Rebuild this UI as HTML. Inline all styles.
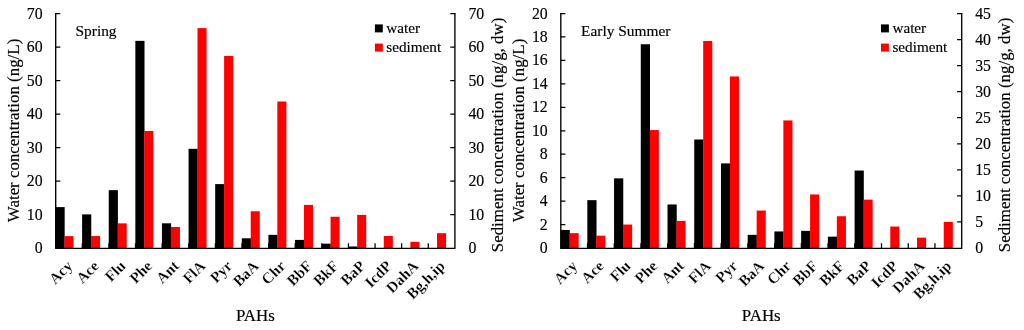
<!DOCTYPE html>
<html lang="en"><head><meta charset="utf-8"><title>PAHs concentration in water and sediment</title>
<style>
html,body{margin:0;padding:0;background:#fff;}
body{width:1024px;height:330px;overflow:hidden;font-family:"Liberation Serif","Times New Roman",serif;}
svg{display:block;}
text{stroke:#000;stroke-width:0.16px;}
text.c{stroke:#fff;stroke-width:0.18px;}
</style></head><body>
<svg width="1024" height="330" viewBox="0 0 1024 330" font-family="'Liberation Serif', 'Times New Roman', serif" fill="#000">
<rect width="1024" height="330" fill="#fff"/>
<rect x="55.5" y="207.1" width="9.17" height="41.3" fill="#000"/>
<rect x="64.42" y="236.15" width="9.07" height="12.25" fill="#f00"/>
<rect x="82.11" y="214.4" width="9.17" height="34" fill="#000"/>
<rect x="91.03" y="236.05" width="9.07" height="12.35" fill="#f00"/>
<rect x="108.73" y="190.15" width="9.17" height="58.25" fill="#000"/>
<rect x="117.65" y="223.35" width="9.07" height="25.05" fill="#f00"/>
<rect x="135.34" y="40.85" width="9.17" height="207.55" fill="#000"/>
<rect x="144.26" y="130.95" width="9.07" height="117.45" fill="#f00"/>
<rect x="161.95" y="223.3" width="9.17" height="25.1" fill="#000"/>
<rect x="170.87" y="227" width="9.07" height="21.4" fill="#f00"/>
<rect x="188.57" y="148.8" width="9.17" height="99.6" fill="#000"/>
<rect x="197.49" y="28.1" width="9.07" height="220.3" fill="#f00"/>
<rect x="215.18" y="184.1" width="9.17" height="64.3" fill="#000"/>
<rect x="224.1" y="55.95" width="9.07" height="192.45" fill="#f00"/>
<rect x="241.79" y="238.3" width="9.17" height="10.1" fill="#000"/>
<rect x="250.71" y="211.25" width="9.07" height="37.15" fill="#f00"/>
<rect x="268.41" y="234.85" width="9.17" height="13.55" fill="#000"/>
<rect x="277.33" y="101.5" width="9.07" height="146.9" fill="#f00"/>
<rect x="295.02" y="239.9" width="9.17" height="8.5" fill="#000"/>
<rect x="303.94" y="204.9" width="9.07" height="43.5" fill="#f00"/>
<rect x="321.63" y="243.65" width="9.17" height="4.75" fill="#000"/>
<rect x="330.55" y="216.75" width="9.07" height="31.65" fill="#f00"/>
<rect x="348.25" y="246.5" width="9.17" height="1.9" fill="#000"/>
<rect x="357.17" y="214.9" width="9.07" height="33.5" fill="#f00"/>
<rect x="383.78" y="236" width="9.07" height="12.4" fill="#f00"/>
<rect x="410.39" y="241.8" width="9.07" height="6.6" fill="#f00"/>
<rect x="437.01" y="233.2" width="9.07" height="15.2" fill="#f00"/>
<path d="M55.7 13.5V248.4H454.9V13.5" fill="none" stroke="#000" stroke-width="1.35" stroke-linejoin="round"/>
<text x="42.6" y="253.05" font-size="15.8" text-anchor="end">0</text>
<text x="42.6" y="219.55" font-size="15.8" text-anchor="end">10</text>
<text x="42.6" y="186.05" font-size="15.8" text-anchor="end">20</text>
<text x="42.6" y="152.55" font-size="15.8" text-anchor="end">30</text>
<text x="42.6" y="119.05" font-size="15.8" text-anchor="end">40</text>
<text x="42.6" y="85.55" font-size="15.8" text-anchor="end">50</text>
<text x="42.6" y="52.05" font-size="15.8" text-anchor="end">60</text>
<text x="42.6" y="18.55" font-size="15.8" text-anchor="end">70</text>
<text x="468.4" y="253.05" font-size="15.8">0</text>
<text x="468.4" y="219.55" font-size="15.8">10</text>
<text x="468.4" y="186.05" font-size="15.8">20</text>
<text x="468.4" y="152.55" font-size="15.8">30</text>
<text x="468.4" y="119.05" font-size="15.8">40</text>
<text x="468.4" y="85.55" font-size="15.8">50</text>
<text x="468.4" y="52.05" font-size="15.8">60</text>
<text x="468.4" y="18.55" font-size="15.8">70</text>
<path d="M82.31 248.4v-5.1M108.93 248.4v-5.1M135.54 248.4v-5.1M162.15 248.4v-5.1M188.77 248.4v-5.1M215.38 248.4v-5.1M241.99 248.4v-5.1M268.61 248.4v-5.1M295.22 248.4v-5.1M321.83 248.4v-5.1M348.45 248.4v-5.1M375.06 248.4v-5.1M401.67 248.4v-5.1M428.29 248.4v-5.1M55.7 214.5h4.6M55.7 181h4.6M55.7 147.5h4.6M55.7 114h4.6M55.7 80.5h4.6M55.7 47h4.6M55.03 13.5h5.27M454.9 214.5h-4.6M454.9 181h-4.6M454.9 147.5h-4.6M454.9 114h-4.6M454.9 80.5h-4.6M454.9 47h-4.6M455.57 13.5h-5.27" fill="none" stroke="#000" stroke-width="1.25"/>
<text transform="translate(73.31 266.9) rotate(-45)" font-size="15.3" class="c" font-weight="bold" text-anchor="end">Acy</text>
<text transform="translate(99.92 266.9) rotate(-45)" font-size="15.3" class="c" font-weight="bold" text-anchor="end">Ace</text>
<text transform="translate(126.53 266.9) rotate(-45)" font-size="15.3" class="c" font-weight="bold" text-anchor="end">Flu</text>
<text transform="translate(153.15 266.9) rotate(-45)" font-size="15.3" class="c" font-weight="bold" text-anchor="end">Phe</text>
<text transform="translate(179.76 266.9) rotate(-45)" font-size="15.3" class="c" font-weight="bold" text-anchor="end">Ant</text>
<text transform="translate(206.37 266.9) rotate(-45)" font-size="15.3" class="c" font-weight="bold" text-anchor="end">FlA</text>
<text transform="translate(232.99 266.9) rotate(-45)" font-size="15.3" class="c" font-weight="bold" text-anchor="end">Pyr</text>
<text transform="translate(259.6 266.9) rotate(-45)" font-size="15.3" class="c" font-weight="bold" text-anchor="end">BaA</text>
<text transform="translate(286.21 266.9) rotate(-45)" font-size="15.3" class="c" font-weight="bold" text-anchor="end">Chr</text>
<text transform="translate(312.83 266.9) rotate(-45)" font-size="15.3" class="c" font-weight="bold" text-anchor="end">BbF</text>
<text transform="translate(339.44 266.9) rotate(-45)" font-size="15.3" class="c" font-weight="bold" text-anchor="end">BkF</text>
<text transform="translate(366.05 266.9) rotate(-45)" font-size="15.3" class="c" font-weight="bold" text-anchor="end">BaP</text>
<text transform="translate(392.67 266.9) rotate(-45)" font-size="15.3" class="c" font-weight="bold" text-anchor="end">IcdP</text>
<text transform="translate(419.28 266.9) rotate(-45)" font-size="15.3" class="c" font-weight="bold" text-anchor="end">DahA</text>
<text transform="translate(445.89 266.9) rotate(-45)" font-size="15.3" class="c" font-weight="bold" text-anchor="end">Bg,h,ip</text>
<text x="255.3" y="321.3" font-size="16.9" text-anchor="middle">PAHs</text>
<text transform="translate(19.1 130.45) rotate(-90)" font-size="16.9" text-anchor="middle">Water concentration (ng/L)</text>
<text transform="translate(503.3 134.95) rotate(-90)" font-size="16.9" text-anchor="middle">Sediment concentration (ng/g, dw)</text>
<text x="75.5" y="35.6" font-size="15.4">Spring</text>
<rect x="374.9" y="24.4" width="7.9" height="8" fill="#000"/>
<rect x="374.9" y="43.6" width="7.9" height="8" fill="#f00"/>
<text x="386.35" y="32.8" font-size="15.2">water</text>
<text x="386.35" y="52.2" font-size="15.2">sediment</text>
<rect x="560.6" y="229.95" width="9.21" height="18.45" fill="#000"/>
<rect x="569.56" y="233.15" width="9.11" height="15.25" fill="#f00"/>
<rect x="587.33" y="200.15" width="9.21" height="48.25" fill="#000"/>
<rect x="596.29" y="235.65" width="9.11" height="12.75" fill="#f00"/>
<rect x="614.05" y="178.35" width="9.21" height="70.05" fill="#000"/>
<rect x="623.01" y="224.55" width="9.11" height="23.85" fill="#f00"/>
<rect x="640.78" y="44.25" width="9.21" height="204.15" fill="#000"/>
<rect x="649.74" y="130.05" width="9.11" height="118.35" fill="#f00"/>
<rect x="667.51" y="204.45" width="9.21" height="43.95" fill="#000"/>
<rect x="676.47" y="220.85" width="9.11" height="27.55" fill="#f00"/>
<rect x="694.23" y="139.5" width="9.21" height="108.9" fill="#000"/>
<rect x="703.19" y="40.95" width="9.11" height="207.45" fill="#f00"/>
<rect x="720.96" y="163.4" width="9.21" height="85" fill="#000"/>
<rect x="729.92" y="76.45" width="9.11" height="171.95" fill="#f00"/>
<rect x="747.69" y="234.85" width="9.21" height="13.55" fill="#000"/>
<rect x="756.65" y="210.55" width="9.11" height="37.85" fill="#f00"/>
<rect x="774.41" y="231.45" width="9.21" height="16.95" fill="#000"/>
<rect x="783.37" y="120.45" width="9.11" height="127.95" fill="#f00"/>
<rect x="801.14" y="230.85" width="9.21" height="17.55" fill="#000"/>
<rect x="810.1" y="194.45" width="9.11" height="53.95" fill="#f00"/>
<rect x="827.87" y="236.65" width="9.21" height="11.75" fill="#000"/>
<rect x="836.83" y="216.25" width="9.11" height="32.15" fill="#f00"/>
<rect x="854.59" y="170.55" width="9.21" height="77.85" fill="#000"/>
<rect x="863.55" y="199.65" width="9.11" height="48.75" fill="#f00"/>
<rect x="890.28" y="226.55" width="9.11" height="21.85" fill="#f00"/>
<rect x="917.01" y="237.65" width="9.11" height="10.75" fill="#f00"/>
<rect x="943.73" y="221.85" width="9.11" height="26.55" fill="#f00"/>
<path d="M560.8 13.5V248.4H961.7V13.5" fill="none" stroke="#000" stroke-width="1.35" stroke-linejoin="round"/>
<text x="547.7" y="253.05" font-size="15.8" text-anchor="end">0</text>
<text x="547.7" y="229.6" font-size="15.8" text-anchor="end">2</text>
<text x="547.7" y="206.15" font-size="15.8" text-anchor="end">4</text>
<text x="547.7" y="182.7" font-size="15.8" text-anchor="end">6</text>
<text x="547.7" y="159.25" font-size="15.8" text-anchor="end">8</text>
<text x="547.7" y="135.8" font-size="15.8" text-anchor="end">10</text>
<text x="547.7" y="112.35" font-size="15.8" text-anchor="end">12</text>
<text x="547.7" y="88.9" font-size="15.8" text-anchor="end">14</text>
<text x="547.7" y="65.45" font-size="15.8" text-anchor="end">16</text>
<text x="547.7" y="42" font-size="15.8" text-anchor="end">18</text>
<text x="547.7" y="18.55" font-size="15.8" text-anchor="end">20</text>
<text x="975.2" y="253.05" font-size="15.8">0</text>
<text x="975.2" y="226.99" font-size="15.8">5</text>
<text x="975.2" y="200.94" font-size="15.8">10</text>
<text x="975.2" y="174.88" font-size="15.8">15</text>
<text x="975.2" y="148.83" font-size="15.8">20</text>
<text x="975.2" y="122.77" font-size="15.8">25</text>
<text x="975.2" y="96.72" font-size="15.8">30</text>
<text x="975.2" y="70.66" font-size="15.8">35</text>
<text x="975.2" y="44.61" font-size="15.8">40</text>
<text x="975.2" y="18.55" font-size="15.8">45</text>
<path d="M587.53 248.4v-5.1M614.25 248.4v-5.1M640.98 248.4v-5.1M667.71 248.4v-5.1M694.43 248.4v-5.1M721.16 248.4v-5.1M747.89 248.4v-5.1M774.61 248.4v-5.1M801.34 248.4v-5.1M828.07 248.4v-5.1M854.79 248.4v-5.1M881.52 248.4v-5.1M908.25 248.4v-5.1M934.97 248.4v-5.1M560.8 224.55h4.6M560.8 201.1h4.6M560.8 177.65h4.6M560.8 154.2h4.6M560.8 130.75h4.6M560.8 107.3h4.6M560.8 83.85h4.6M560.8 60.4h4.6M560.8 36.95h4.6M560.12 13.5h5.27M961.7 221.94h-4.6M961.7 195.89h-4.6M961.7 169.83h-4.6M961.7 143.78h-4.6M961.7 117.72h-4.6M961.7 91.67h-4.6M961.7 65.61h-4.6M961.7 39.56h-4.6M962.38 13.5h-5.27" fill="none" stroke="#000" stroke-width="1.25"/>
<text transform="translate(578.06 266.9) rotate(-45)" font-size="15.3" class="c" font-weight="bold" text-anchor="end">Acy</text>
<text transform="translate(604.79 266.9) rotate(-45)" font-size="15.3" class="c" font-weight="bold" text-anchor="end">Ace</text>
<text transform="translate(631.52 266.9) rotate(-45)" font-size="15.3" class="c" font-weight="bold" text-anchor="end">Flu</text>
<text transform="translate(658.24 266.9) rotate(-45)" font-size="15.3" class="c" font-weight="bold" text-anchor="end">Phe</text>
<text transform="translate(684.97 266.9) rotate(-45)" font-size="15.3" class="c" font-weight="bold" text-anchor="end">Ant</text>
<text transform="translate(711.7 266.9) rotate(-45)" font-size="15.3" class="c" font-weight="bold" text-anchor="end">FlA</text>
<text transform="translate(738.42 266.9) rotate(-45)" font-size="15.3" class="c" font-weight="bold" text-anchor="end">Pyr</text>
<text transform="translate(765.15 266.9) rotate(-45)" font-size="15.3" class="c" font-weight="bold" text-anchor="end">BaA</text>
<text transform="translate(791.88 266.9) rotate(-45)" font-size="15.3" class="c" font-weight="bold" text-anchor="end">Chr</text>
<text transform="translate(818.6 266.9) rotate(-45)" font-size="15.3" class="c" font-weight="bold" text-anchor="end">BbF</text>
<text transform="translate(845.33 266.9) rotate(-45)" font-size="15.3" class="c" font-weight="bold" text-anchor="end">BkF</text>
<text transform="translate(872.06 266.9) rotate(-45)" font-size="15.3" class="c" font-weight="bold" text-anchor="end">BaP</text>
<text transform="translate(898.78 266.9) rotate(-45)" font-size="15.3" class="c" font-weight="bold" text-anchor="end">IcdP</text>
<text transform="translate(925.51 266.9) rotate(-45)" font-size="15.3" class="c" font-weight="bold" text-anchor="end">DahA</text>
<text transform="translate(952.24 266.9) rotate(-45)" font-size="15.3" class="c" font-weight="bold" text-anchor="end">Bg,h,ip</text>
<text x="761.25" y="321.3" font-size="16.9" text-anchor="middle">PAHs</text>
<text transform="translate(524.2 130.45) rotate(-90)" font-size="16.9" text-anchor="middle">Water concentration (ng/L)</text>
<text transform="translate(1010.1 134.95) rotate(-90)" font-size="16.9" text-anchor="middle">Sediment concentration (ng/g, dw)</text>
<text x="581.1" y="35.6" font-size="15.4">Early Summer</text>
<rect x="881" y="24.4" width="7.9" height="8" fill="#000"/>
<rect x="881" y="43.6" width="7.9" height="8" fill="#f00"/>
<text x="892.45" y="32.8" font-size="15.2">water</text>
<text x="892.45" y="52.2" font-size="15.2">sediment</text>
</svg>
</body></html>
